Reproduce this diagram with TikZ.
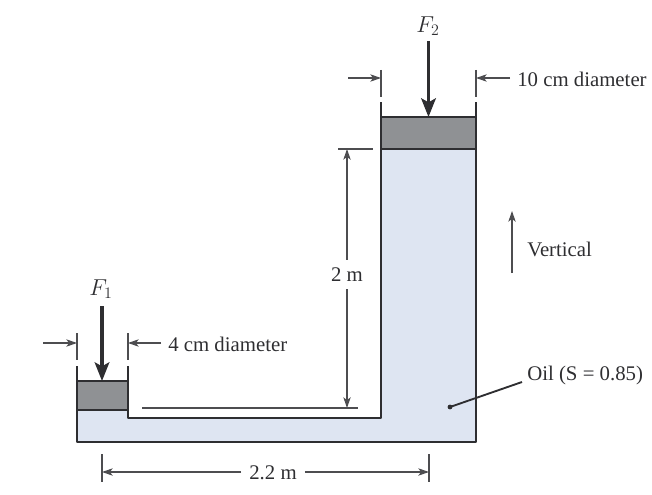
\documentclass[tikz,border=0pt]{standalone}
\usepackage{fontspec}
\setmainfont{Liberation Serif}
\usetikzlibrary{arrows.meta}
\definecolor{oil}{HTML}{DEE5F2}
\definecolor{piston}{HTML}{8F9194}
\definecolor{ink}{HTML}{2E2E31}
\tikzset{
    wall/.style={draw=ink, line width=1.25pt},
    thin line/.style={draw=ink!85, line width=0.95pt},
    dim/.style={thin line, -{Stealth[length=8pt,width=5.5pt,inset=2pt]}},
    force/.style={draw=ink, line width=2.3pt, -{Stealth[length=14pt,width=11pt,inset=3pt]}},
    txt/.style={font=\fontsize{15.6}{18}\selectfont, text=ink, inner sep=0pt}
}
\begin{document}
\begin{tikzpicture}[line join=round, x=0.75pt, y=-0.75pt]
    \useasboundingbox (0,0) rectangle (652,495);
    \coordinate (A) at (77,366);
    \coordinate (A1) at (77,381);
    \coordinate (A2) at (77,410);
    \coordinate (B) at (77,442);
    \coordinate (C) at (476,442);
    \coordinate (D) at (476,102);
    \coordinate (D1) at (476,117);
    \coordinate (D2) at (476,149);
    \coordinate (E) at (381,102);
    \coordinate (E1) at (381,117);
    \coordinate (E2) at (381,149);
    \coordinate (F) at (381,418);
    \coordinate (G) at (128,418);
    \coordinate (H) at (128,366);
    \coordinate (H1) at (128,381);
    \coordinate (H2) at (128,410);

    \fill[oil] (A2)--(B)--(C)--(D2)--(E2)--(F)--(G)--(H2)--cycle;
    \fill[piston] (A1)--(H1)--(H2)--(A2)--cycle;
    \fill[piston] (E1)--(D1)--(D2)--(E2)--cycle;
    \draw[wall] (H)--(G)--(F)--(E);
    \draw[wall] (A)--(B)--(C)--(D);
    \draw[wall] (A1)--(H1) (A2)--(H2) (E1)--(D1) (E2)--(D2);

    % forces
    \coordinate (P1) at (102,381);
    \coordinate (P1t) at (102,306);
    \coordinate (P2) at (428.5,117);
    \coordinate (P2t) at (428.5,41);
    \draw[force] (P1t)--(P1);
    \draw[force] (P2t)--(P2);
    \node[txt] (F1) at (101,289) {\fontsize{18}{20}\selectfont $F_1$};
    \node[txt] (F2) at (428,26) {\fontsize{18}{20}\selectfont $F_2$};

    % diameters
    \coordinate (a1) at (77,333);
    \coordinate (a2) at (77,360);
    \coordinate (b1) at (128,333);
    \coordinate (b2) at (128,360);
    \coordinate (c1) at (381,70);
    \coordinate (c2) at (381,97);
    \coordinate (d1) at (476,70);
    \coordinate (d2) at (476,97);
    \draw[thin line] (a1)--(a2) (b1)--(b2) (c1)--(c2) (d1)--(d2);
    \coordinate (a) at (77,343);
    \coordinate (al) at (43,343);
    \coordinate (b) at (128,343);
    \coordinate (c) at (381,78);
    \coordinate (cl) at (348,78);
    \coordinate (d) at (476,78);
    \node[txt, anchor=west] (small) at (168,344) {4 cm diameter};
    \node[txt, anchor=west] (big) at (517,79) {10 cm diameter};
    \draw[dim] (al)--(a);
    \draw[dim] (small.west)++(-7,-1) --(b);
    \draw[dim] (cl)--(c);
    \draw[dim] (big.west)++(-7,-1) --(d);

    % height
    \coordinate (t1) at (338,149);
    \coordinate (t2) at (373,149);
    \coordinate (u1) at (142,408);
    \coordinate (u2) at (358,408);
    \draw[thin line] (t1)--(t2) (u1)--(u2);
    \coordinate (t) at (347,149);
    \coordinate (u) at (347,408);
    \node[txt] (hgt) at (347,275) {2 m};
    \draw[dim] (hgt.north)++(0,-8) --(t);
    \draw[dim] (hgt.south)++(0,7) --(u);

    % length
    \coordinate (v1) at (102,454);
    \coordinate (v2) at (102,482);
    \coordinate (w1) at (429,454);
    \coordinate (w2) at (429,482);
    \draw[thin line] (v1)--(v2) (w1)--(w2);
    \coordinate (v) at (102,472);
    \coordinate (w) at (429,472);
    \node[txt] (len) at (273,473) {2.2 m};
    \draw[dim] (len.west)++(-8,-1) --(v);
    \draw[dim] (len.east)++(8,-1) --(w);

    % vertical
    \coordinate (up1) at (512,273);
    \coordinate (up2) at (512,211);
    \draw[dim] (up1)--(up2);
    \node[txt, anchor=west] (vert) at (527,249) {Vertical};

    % oil
    \node[txt, anchor=west] (oillabel) at (527,375) {Oil (S = 0.85)};
    \coordinate (dot) at (450,407);
    \coordinate (lead) at (522,382);
    \fill[ink] (dot) circle (1.8pt);
    \draw[ink, line width=1.4pt] (dot)--(lead);
\end{tikzpicture}
\end{document}
